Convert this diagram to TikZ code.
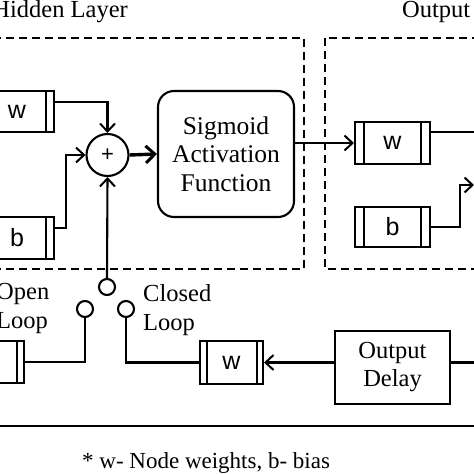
\documentclass[tikz,border=0pt]{standalone}
\usepackage{fontspec}
\setmainfont{Liberation Serif}
\newfontfamily\boxfont{Liberation Sans}
\usetikzlibrary{arrows.meta}
\begin{document}
\begin{tikzpicture}[x=1pt,y=-1pt,
  ln/.style={line width=2.1pt},
  arr/.style={ln,-{Straight Barb[length=8pt,width=15pt,line width=2pt]}},
  dashbox/.style={line width=2pt,dash pattern=on 8pt off 5pt},
  wbox/.style={draw,ln,rectangle,inner sep=0pt,font=\boxfont\fontsize{25}{25}\selectfont},
  dot/.style={draw,circle,ln,minimum size=16pt,inner sep=0pt},
  lbl/.style={font=\fontsize{24.5}{29}\selectfont,inner sep=0pt}]
\useasboundingbox (0,0) rectangle (474,474);
\clip (0,0) rectangle (474,474);

% dashed layer boxes
\draw[dashbox] (-10,38) rectangle (304,269);
\draw[dashbox] (325,38) rectangle (490,269);

% hidden layer
\node[wbox,minimum width=74pt,minimum height=41pt] (hw) at (17,111.5) {w};
\draw[ln] ([xshift=-9pt]hw.north east) -- ([xshift=-9pt]hw.south east);
\node[wbox,minimum width=74pt,minimum height=42pt] (hb) at (17,238) {b};
\draw[ln] ([xshift=-9pt]hb.north east) -- ([xshift=-9pt]hb.south east);
\node[draw,circle,ln,minimum size=42pt,inner sep=0pt,font=\boxfont\fontsize{22}{22}\selectfont] (sum) at (107.5,155) {+};
\node[draw,ln,rounded corners=16pt,minimum width=136pt,minimum height=126pt,align=center,font=\fontsize{25.5}{28.5}\selectfont,inner sep=0pt] (sig) at (226,154) {Sigmoid\\Activation\\Function};

\draw[arr] ([yshift=9.5pt]hw.east) -| (sum.north);
\draw[arr] ([yshift=10pt]hb.east) -- ++(11,0) |- (sum.west);
\draw[line width=3.4pt,-{Straight Barb[length=9pt,width=17pt,line width=3pt]}] (sum.east) -- (sig.west);

% output layer
\node[wbox,minimum width=75pt,minimum height=42pt] (ow) at (392.5,143) {w};
\draw[ln] ([xshift=10pt]ow.north west) -- ([xshift=10pt]ow.south west);
\draw[ln] ([xshift=-10pt]ow.north east) -- ([xshift=-10pt]ow.south east);
\node[wbox,minimum width=75pt,minimum height=40pt] (ob) at (392.5,227) {b};
\draw[ln] ([xshift=10pt]ob.north west) -- ([xshift=10pt]ob.south west);
\draw[ln] ([xshift=-10pt]ob.north east) -- ([xshift=-10pt]ob.south east);

\draw[arr] (sig.east |- ow.west) -- (ow.west);
\coordinate (owend) at (480,132);
\draw[ln] (owend -| ow.east) -- (owend);
\coordinate (obend) at (474,185);
\draw[arr] (ob.east) -- ++(29,0) |- (obend);

% switch
\node[dot] (sw) at (107,287) {};
\node[dot] (so) at (85,309) {};
\node[dot] (sc) at (126,309) {};
\draw[arr] (sw.north) -- (sum.south);

% feedback
\node[wbox,minimum width=44pt,minimum height=42pt] (ol) at (2,362) {};
\draw[ln] ([xshift=-8pt]ol.north east) -- ([xshift=-8pt]ol.south east);
\node[wbox,minimum width=63pt,minimum height=43pt] (cw) at (231.5,362.5) {w};
\draw[ln] ([xshift=8pt]cw.north west) -- ([xshift=8pt]cw.south west);
\draw[ln] ([xshift=-7pt]cw.north east) -- ([xshift=-7pt]cw.south east);
\node[draw,ln,minimum width=115pt,minimum height=73pt,align=center,font=\fontsize{24.5}{28}\selectfont,inner sep=0pt] (od) at (392.5,367.5) {Output\\Delay};

\draw[ln] (so.south) |- (ol.east);
\draw[ln] (sc.south) |- (cw.west);
\draw[arr] (od.west |- cw.east) -- (cw.east);
\coordinate (odend) at (480,362.5);
\draw[ln] (od.east |- odend) -- (odend);

% rule
\coordinate (ruleA) at (-5,426);
\coordinate (ruleB) at (480,426);
\draw[ln] (ruleA) -- (ruleB);

% labels
\node[lbl,anchor=base east] (hl) at (128,17) {Hidden Layer};
\node[lbl,anchor=base west] (outl) at (402,17) {Output};
\node[lbl,anchor=north west,align=left] (openl) at (-4,283) {Open\\Loop};
\node[lbl,anchor=north west,align=left] (closedl) at (143,284) {Closed\\Loop};
\node[font=\fontsize{23}{27}\selectfont,inner sep=0pt,anchor=base west] (note) at (82,468) {* w- Node weights, b- bias};
\end{tikzpicture}
\end{document}
